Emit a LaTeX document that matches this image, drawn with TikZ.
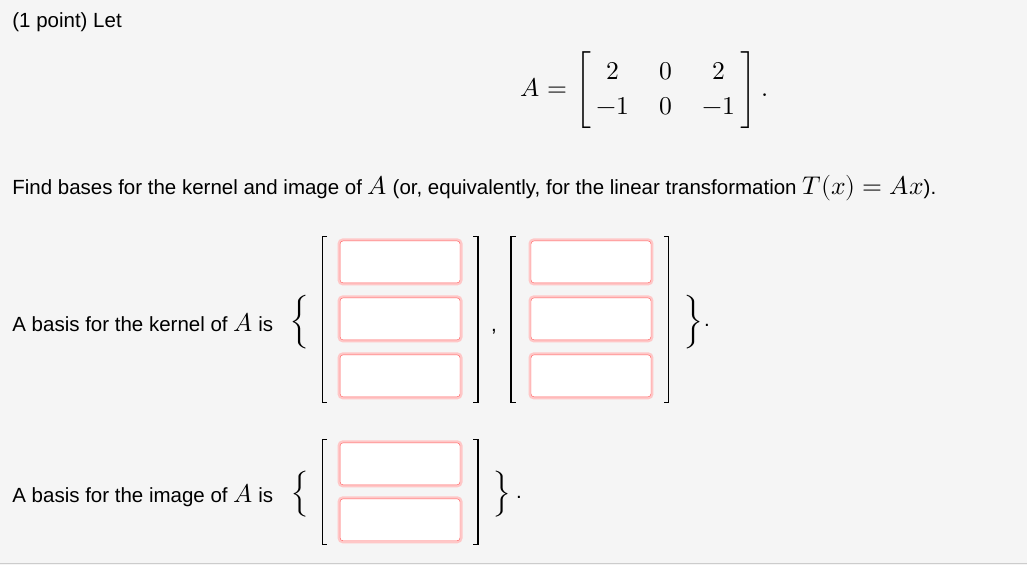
\documentclass[tikz,border=0pt]{standalone}
\usepackage{fontspec}
\setmainfont{Liberation Sans}
\usepackage{unicode-math}
\setmathfont{Latin Modern Math}[Scale=1.25]
\begin{document}
\begin{tikzpicture}[x=1pt,y=-1pt,
  txt/.style={anchor=west,inner sep=0pt,font=\fontsize{20.5}{23}\selectfont},
  ansbox/.style={draw=red!65!white,fill=white,rounded corners=3pt,minimum width=120pt,minimum height=42pt,inner sep=0pt,
    preaction={draw=red!22,line width=5pt,rounded corners=3pt}},
  brk/.style={line width=1.1pt},
  delim/.style={inner sep=0pt,font=\fontsize{20.5}{23}\selectfont}]
\fill[gray!8] (0,0) rectangle (1027,565);
\draw[gray!40] (0,563) -- (1027,563);
\node[txt] (t1) at (12,22) {(1 point) Let};
\node[delim] (amat) at (645,90) {\renewcommand{\arraystretch}{1.5}$A=\left[\begin{array}{ccc}2&\quad0\quad&2\\-1&\quad0\quad&-1\end{array}\right].$};
\node[txt] (t2) at (12,188) {Find bases for the kernel and image of $A$ (or, equivalently, for the linear transformation $T(x)=Ax$).};
\node[txt] (t3) at (12,323) {A basis for the kernel of $A$ is};
\node[txt] (t4) at (12,496) {A basis for the image of $A$ is};
% kernel
\foreach \n/\x in {a/400,b/591}{
  \node[ansbox] (\n1) at (\x,262) {};
  \node[ansbox] (\n2) at (\x,319) {};
  \node[ansbox] (\n3) at (\x,376) {};
}
\draw[brk] (327,237) -- (322,237) -- (322,403) -- (327,403);
\draw[brk] (473,237) -- (478,237) -- (478,403) -- (473,403);
\draw[brk] (516,237) -- (511,237) -- (511,403) -- (516,403);
\draw[brk] (664,237) -- (669,237) -- (669,403) -- (664,403);
\node[delim,anchor=east] (lb1) at (310,322) {$\left\{\rule{0pt}{32pt}\right.$};
\node[delim,anchor=west] (rb1) at (683,322) {$\left.\rule{0pt}{32pt}\right\}$};
\node[delim] (cm) at (494,332) {,};
\node[delim] (p1) at (707,326) {.};
% image
\node[ansbox] (c1) at (400,464) {};
\node[ansbox] (c2) at (400,520) {};
\draw[brk] (327,440) -- (322,440) -- (322,545) -- (327,545);
\draw[brk] (473,440) -- (478,440) -- (478,545) -- (473,545);
\node[delim,anchor=east] (lb2) at (310,494) {$\left\{\rule{0pt}{28pt}\right.$};
\node[delim,anchor=west] (rb2) at (492,494) {$\left.\rule{0pt}{28pt}\right\}$};
\node[delim] (p2) at (519,498) {.};
\end{tikzpicture}
\end{document}
